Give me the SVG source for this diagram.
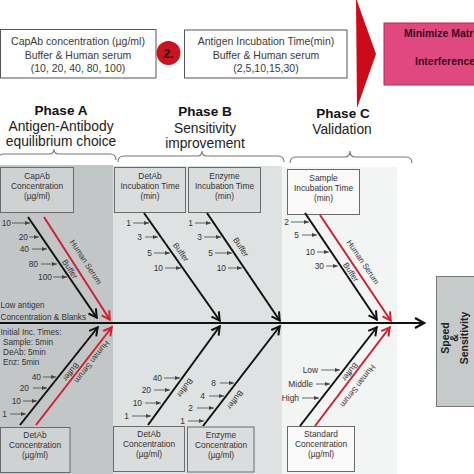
<svg xmlns="http://www.w3.org/2000/svg" width="474" height="474" viewBox="0 0 474 474">
<defs>
<style>
text{font-family:"Liberation Sans",Arial,sans-serif;}
.top{font-size:10.5px;fill:#3a3a3a;text-anchor:middle}
.ph{font-size:13.5px;font-weight:bold;fill:#111;text-anchor:middle}
.sub{font-size:13.8px;fill:#222;text-anchor:middle}
.bl{font-size:8.4px;fill:#333;text-anchor:middle}
.lv{font-size:8.4px;fill:#333;text-anchor:end}
.lt{font-size:8.2px;fill:#333}
.sp{font-size:8px;fill:#333;text-anchor:middle}
.spd{font-size:10.5px;font-weight:bold;fill:#222;text-anchor:middle}
.brace{fill:none;stroke:#777;stroke-width:1.1}
.bA{fill:#cfd2d2;stroke:#6b6b6b;stroke-width:1}
.bB{fill:#dadddd;stroke:#6b6b6b;stroke-width:1}
.bC{fill:#f9f9f9;stroke:#6b6b6b;stroke-width:1}
.k{stroke:#111;stroke-width:2;fill:none;marker-end:url(#ak)}
.r{stroke:#d0202e;stroke-width:2;fill:none;marker-end:url(#ar)}
.lvl{stroke:#444;stroke-width:0.8;fill:none;marker-end:url(#al)}
</style>
<marker id="ak" markerUnits="userSpaceOnUse" markerWidth="12" markerHeight="12" viewBox="0 0 12 12" refX="10.5" refY="6" orient="auto">
<path d="M2,1.5 L10,6 L2,10.5" fill="none" stroke="#111" stroke-width="2"/>
</marker>
<marker id="ar" markerUnits="userSpaceOnUse" markerWidth="12" markerHeight="12" viewBox="0 0 12 12" refX="10.5" refY="6" orient="auto">
<path d="M2,1.5 L10,6 L2,10.5" fill="none" stroke="#d0202e" stroke-width="2"/>
</marker>
<marker id="ax" markerUnits="userSpaceOnUse" markerWidth="14" markerHeight="14" viewBox="0 0 14 14" refX="12" refY="7" orient="auto">
<path d="M3,2 L12,7 L3,12" fill="none" stroke="#111" stroke-width="2.2"/>
</marker>
<marker id="al" markerUnits="userSpaceOnUse" markerWidth="6" markerHeight="6" viewBox="0 0 6 6" refX="5.5" refY="3" orient="auto">
<path d="M0,0.8 L5.5,3 L0,5.2 z" fill="#444"/>
</marker>
</defs>
<rect width="474" height="474" fill="#fff"/>

<!-- phase backgrounds -->
<rect x="0" y="165" width="113" height="309" fill="#c3c6c6"/>
<rect x="113" y="166" width="169" height="308" fill="#dfe2e2"/>
<rect x="282" y="167" width="115" height="307" fill="#f3f4f4"/>

<!-- top flow -->
<g id="capab-step">
<rect x="0.5" y="29.5" width="155.5" height="48.5" fill="#fff" stroke="#555"/>
<text class="top" x="78" y="45">CapAb concentration (µg/ml)</text>
<text class="top" x="78" y="59">Buffer &amp; Human serum</text>
<text class="top" x="78" y="72">(10, 20, 40, 80, 100)</text>
</g>
<g id="step2">
<circle cx="168.5" cy="53" r="12" fill="#c8141c"/>
<text x="168.5" y="57.5" font-size="12" font-weight="bold" fill="#2a0a0a" text-anchor="middle">2.</text>
</g>
<g id="antigen-step">
<rect x="184.5" y="30" width="162.5" height="48" fill="#fff" stroke="#555"/>
<text class="top" x="266" y="45">Antigen Incubation Time(min)</text>
<text class="top" x="266" y="59">Buffer &amp; Human serum</text>
<text class="top" x="266" y="72">(2,5,10,15,30)</text>
</g>
<g id="red-arrow">
<polygon points="356,-2 376,54 357,108" fill="#cc0a1a"/>
</g>
<g id="matrix">
<rect x="384" y="23" width="100" height="62" fill="#e04880" stroke="#b52850"/>
<text x="404" y="37" font-size="10.5" font-weight="bold" fill="#3a0a18">Minimize Matrix</text>
<text x="415" y="65" font-size="10.5" font-weight="bold" fill="#3a0a18">Interferences</text>
</g>

<!-- phase titles -->
<g id="phaseA">
<text class="ph" x="61" y="115">Phase A</text>
<text class="sub" x="61" y="131">Antigen-Antibody</text>
<text class="sub" x="61" y="146">equilibrium choice</text>
<path class="brace" d="M-2,160 Q-2,154 4,154 L49,154 Q54,154 54,149 Q54,154 59,154 L110,154 Q116,154 116,160"/>
</g>
<g id="phaseB">
<text class="ph" x="205" y="116">Phase B</text>
<text class="sub" x="205" y="133">Sensitivity</text>
<text class="sub" x="205" y="148">improvement</text>
<path class="brace" d="M118,162 Q118,156 124,156 L197,156 Q202,156 202,151 Q202,156 207,156 L278,156 Q284,156 284,162"/>
</g>
<g id="phaseC">
<text class="ph" x="343" y="118">Phase C</text>
<text class="sub" x="342" y="134">Validation</text>
<path class="brace" d="M290,163 Q290,157 296,157 L345,157 Q350,157 350,151 Q350,157 355,157 L406,157 Q412,157 412,163"/>
</g>

<!-- boxes -->
<g id="capab-conc"><rect class="bA" x="0.5" y="167.5" width="73" height="45"/>
<text class="bl" x="37" y="179">CapAb</text><text class="bl" x="37" y="189">Concentration</text><text class="bl" x="37" y="199">(µg/ml)</text></g>
<g id="detab-inc"><rect class="bB" x="114.5" y="167.5" width="71" height="45"/>
<text class="bl" x="150" y="179">DetAb</text><text class="bl" x="150" y="189">Incubation Time</text><text class="bl" x="150" y="199">(min)</text></g>
<g id="enz-inc"><rect class="bB" x="188.5" y="167.5" width="72" height="45"/>
<text class="bl" x="224.5" y="179">Enzyme</text><text class="bl" x="224.5" y="189">Incubation Time</text><text class="bl" x="224.5" y="199">(min)</text></g>
<g id="sample-inc"><rect class="bC" x="287.5" y="169.5" width="72" height="45"/>
<text class="bl" x="323.5" y="181">Sample</text><text class="bl" x="323.5" y="191">Incubation Time</text><text class="bl" x="323.5" y="201">(min)</text></g>
<g id="detab-conc-a"><rect class="bA" x="0.5" y="427.5" width="69.5" height="45"/>
<text class="bl" x="35" y="438">DetAb</text><text class="bl" x="35" y="448">Concentration</text><text class="bl" x="35" y="458">(µg/ml)</text></g>
<g id="detab-conc-b"><rect class="bB" x="113.5" y="426.5" width="71" height="45"/>
<text class="bl" x="149" y="437">DetAb</text><text class="bl" x="149" y="447">Concentration</text><text class="bl" x="149" y="457">(µg/ml)</text></g>
<g id="enz-conc"><rect class="bB" x="187.5" y="427" width="66.5" height="45"/>
<text class="bl" x="221" y="438">Enzyme</text><text class="bl" x="221" y="448">Concentration</text><text class="bl" x="221" y="458">(µg/ml)</text></g>
<g id="std-conc"><rect class="bC" x="287.5" y="426.5" width="67" height="45"/>
<text class="bl" x="321" y="437">Standard</text><text class="bl" x="321" y="447">Concentration</text><text class="bl" x="321" y="457">(µg/ml)</text></g>

<g id="speed"><rect x="436.5" y="276.5" width="42" height="130" fill="#c6caca" stroke="#777"/>
<text class="spd" transform="translate(449,338) rotate(-90)">Speed</text>
<text class="spd" transform="translate(458,338) rotate(-90)">&amp;</text>
<text class="spd" transform="translate(468,338) rotate(-90)">Sensitivity</text></g>

<!-- left notes -->
<g id="notes">
<text class="lt" x="0.5" y="308">Low antigen</text>
<text class="lt" x="0.5" y="320">Concentration &amp; Blanks</text>
<text class="lt" x="0.5" y="335">Initial Inc. Times:</text>
<text class="lt" x="3" y="345">Sample: 5min</text>
<text class="lt" x="3" y="355">DeAb: 5min</text>
<text class="lt" x="3" y="365">Enz: 5min</text>
</g>

<!-- connectors -->
<g id="connectors">
<line x1="0" y1="323" x2="424" y2="323" stroke="#111" stroke-width="2.2" marker-end="url(#ax)"/>
<line class="k" x1="28" y1="217" x2="97" y2="318"/>
<line class="r" x1="44" y1="217" x2="110" y2="320"/>
<line class="k" x1="20" y1="425" x2="98" y2="327"/>
<line class="r" x1="36" y1="425" x2="112" y2="327"/>
<line class="k" x1="144" y1="213" x2="220" y2="321"/>
<line class="k" x1="207" y1="213" x2="280" y2="321"/>
<line class="k" x1="148" y1="425" x2="220" y2="326"/>
<line class="k" x1="203" y1="426" x2="280" y2="326"/>
<line class="k" x1="305" y1="213" x2="377" y2="320"/>
<line class="r" x1="320" y1="215" x2="391" y2="321"/>
<line class="k" x1="300" y1="426" x2="377" y2="327"/>
<line class="r" x1="315" y1="426" x2="390" y2="327"/>

<line class="lvl" x1="12" y1="223" x2="30" y2="223"/>
<line class="lvl" x1="29" y1="237" x2="39" y2="237"/>
<line class="lvl" x1="32" y1="249" x2="47" y2="249"/>
<line class="lvl" x1="41" y1="264" x2="57" y2="264"/>
<line class="lvl" x1="53" y1="277" x2="67" y2="277"/>
<line class="lvl" x1="43" y1="377" x2="56" y2="377"/>
<line class="lvl" x1="33" y1="388" x2="47" y2="388"/>
<line class="lvl" x1="23" y1="401" x2="37" y2="401"/>
<line class="lvl" x1="10" y1="414" x2="26" y2="414"/>
<line class="lvl" x1="133" y1="223" x2="149" y2="223"/>
<line class="lvl" x1="145" y1="237" x2="158" y2="237"/>
<line class="lvl" x1="154" y1="253" x2="170" y2="253"/>
<line class="lvl" x1="165" y1="268" x2="181" y2="268"/>
<line class="lvl" x1="195" y1="223" x2="211" y2="223"/>
<line class="lvl" x1="204" y1="237" x2="221" y2="237"/>
<line class="lvl" x1="215" y1="253" x2="232" y2="253"/>
<line class="lvl" x1="228" y1="268" x2="242" y2="268"/>
<line class="lvl" x1="164" y1="378" x2="180" y2="378"/>
<line class="lvl" x1="154" y1="390" x2="170" y2="390"/>
<line class="lvl" x1="145" y1="403" x2="161" y2="403"/>
<line class="lvl" x1="132" y1="416" x2="151" y2="416"/>
<line class="lvl" x1="220" y1="383" x2="234" y2="383"/>
<line class="lvl" x1="209" y1="396" x2="224" y2="396"/>
<line class="lvl" x1="197" y1="408" x2="214" y2="408"/>
<line class="lvl" x1="188" y1="421" x2="204" y2="421"/>
<line class="lvl" x1="291" y1="222" x2="309" y2="222"/>
<line class="lvl" x1="302" y1="235" x2="317" y2="235"/>
<line class="lvl" x1="317" y1="252" x2="329" y2="252"/>
<line class="lvl" x1="326" y1="266" x2="338" y2="266"/>
<line class="lvl" x1="321" y1="370" x2="340" y2="370"/>
<line class="lvl" x1="316" y1="384" x2="330" y2="384"/>
<line class="lvl" x1="302" y1="398" x2="319" y2="398"/>
</g>

<g id="levels">
<text class="lv" x="11" y="226">10</text>
<text class="lv" x="28" y="240">20</text>
<text class="lv" x="29" y="252">40</text>
<text class="lv" x="38" y="267">80</text>
<text class="lv" x="52" y="280">100</text>
<text class="lv" x="41" y="380">40</text>
<text class="lv" x="29" y="391">20</text>
<text class="lv" x="21" y="404">10</text>
<text class="lv" x="7" y="417">1</text>
<text class="lv" x="131" y="226">1</text>
<text class="lv" x="142" y="240">3</text>
<text class="lv" x="152" y="256">5</text>
<text class="lv" x="163" y="271">10</text>
<text class="lv" x="193" y="226">1</text>
<text class="lv" x="202" y="240">3</text>
<text class="lv" x="213" y="256">5</text>
<text class="lv" x="226" y="271">10</text>
<text class="lv" x="162" y="381">40</text>
<text class="lv" x="151" y="393">20</text>
<text class="lv" x="142" y="406">10</text>
<text class="lv" x="129" y="419">1</text>
<text class="lv" x="216" y="386">8</text>
<text class="lv" x="205" y="399">4</text>
<text class="lv" x="193" y="411">2</text>
<text class="lv" x="185" y="424">1</text>
<text class="lv" x="289" y="225">2</text>
<text class="lv" x="299" y="238">5</text>
<text class="lv" x="315" y="255">10</text>
<text class="lv" x="324" y="269">30</text>
<text class="lv" x="318" y="373">Low</text>
<text class="lv" x="313" y="387">Middle</text>
<text class="lv" x="299" y="401">High</text>
</g>

<g id="spine-labels">
<text class="sp" transform="translate(70,269) rotate(56)" dy="0.35em">Buffer</text>
<text class="sp" transform="translate(86,262) rotate(57)" dy="0.35em">Human Serum</text>
<text class="sp" transform="translate(71,372) rotate(128)" dy="0.35em">Buffer</text>
<text class="sp" transform="translate(92,362) rotate(128)" dy="0.35em">Human Serum</text>
<text class="sp" transform="translate(181,252) rotate(55)" dy="0.35em">Buffer</text>
<text class="sp" transform="translate(241,247) rotate(56)" dy="0.35em">Buffer</text>
<text class="sp" transform="translate(185,388) rotate(126)" dy="0.35em">Buffer</text>
<text class="sp" transform="translate(235,400) rotate(127)" dy="0.35em">Buffer</text>
<text class="sp" transform="translate(351,272) rotate(56)" dy="0.35em">Buffer</text>
<text class="sp" transform="translate(363,262) rotate(56)" dy="0.35em">Human Serum</text>
<text class="sp" transform="translate(350,372) rotate(128)" dy="0.35em">Buffer</text>
<text class="sp" transform="translate(358,386) rotate(128)" dy="0.35em">Human Serum</text>
</g>
</svg>
